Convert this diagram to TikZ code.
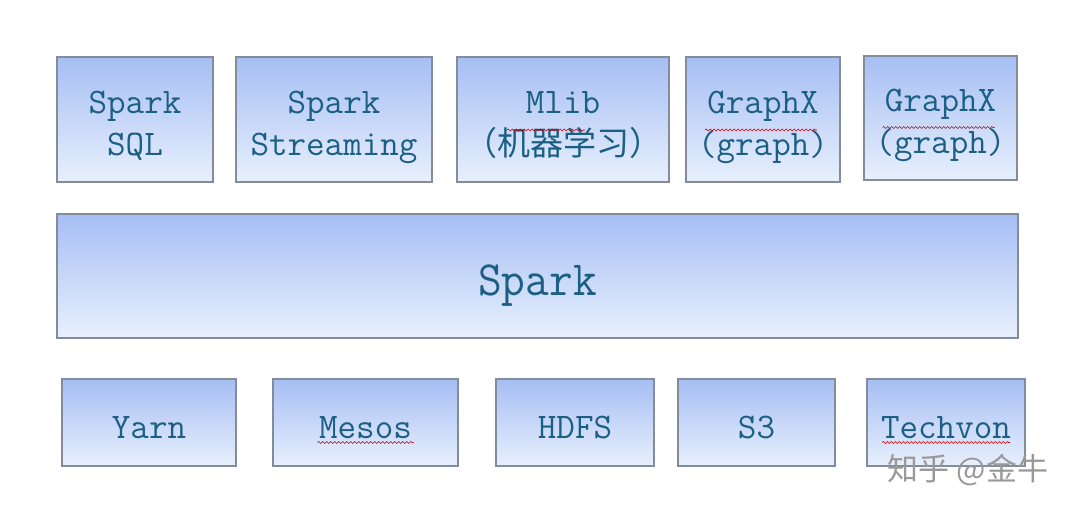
\documentclass[tikz,border=0pt]{standalone}
\usepackage{fontspec}
\newfontfamily\cjk{Noto Sans CJK SC}
\usetikzlibrary{decorations.pathmorphing}
\definecolor{txt}{RGB}{28,95,132}
\definecolor{topc}{RGB}{166,190,244}
\definecolor{botc}{RGB}{232,240,252}
\definecolor{edge}{RGB}{130,140,155}
\newcommand\boxtext[2]{\raisebox{#1}[0pt][0pt]{\begin{tabular}[t]{@{}c@{}}#2\end{tabular}}}
\tikzset{
  box/.style={draw=edge, line width=1.2pt, top color=topc, bottom color=botc,
    inner sep=0pt, outer sep=0pt, align=center, text=txt,
    font=\ttfamily\fontsize{36}{42}\selectfont},
  spell/.style={draw=red!80!black, line width=0.6pt, decorate,
    decoration={snake, amplitude=1pt, segment length=4pt}},
}
\begin{document}
\begin{tikzpicture}[x=1pt,y=-1pt]
\useasboundingbox (0,0) rectangle (1080,515);
\fill[white] (0,0) rectangle (1080,515);
% top row
\node[box, minimum width=156pt, minimum height=125pt] (sql) at (135,119.5) {\boxtext{6.5pt}{Spark\\SQL}};
\node[box, minimum width=196pt, minimum height=125pt] (stream) at (334,119.5) {\boxtext{6.5pt}{Spark\\Streaming}};
\node[box, minimum width=212pt, minimum height=125pt] (mlib) at (563,119.5) {\boxtext{6.5pt}{Mlib\\{\cjk\fontsize{33}{42}\selectfont（机器学习）}}};
\node[box, minimum width=154pt, minimum height=125pt] (gx1) at (763,119.5) {\boxtext{6.5pt}{GraphX\\(graph)}};
\node[box, minimum width=153pt, minimum height=124pt] (gx2) at (940.5,118) {\boxtext{6.5pt}{GraphX\\(graph)}};
% middle
\node[box, minimum width=961pt, minimum height=124pt, font=\ttfamily\fontsize{46}{50}\selectfont] (spark) at (537.5,276) {\boxtext{-19pt}{\scalebox{1}[1.07]{Spark}}};
% bottom row
\node[box, minimum width=174pt, minimum height=87pt] (yarn) at (149,422.5) {\boxtext{-15.5pt}{Yarn}};
\node[box, minimum width=185pt, minimum height=87pt] (mesos) at (365.5,422.5) {\boxtext{-15.5pt}{Mesos}};
\node[box, minimum width=158pt, minimum height=87pt] (hdfs) at (575,422.5) {\boxtext{-15.5pt}{HDFS}};
\node[box, minimum width=157pt, minimum height=87pt] (s3) at (756.5,422.5) {\boxtext{-15.5pt}{S3}};
\node[box, minimum width=158pt, minimum height=87pt] (tech) at (946,422.5) {\boxtext{-15.5pt}{Techvon}};
% spell-check underlines
\draw[spell] ([xshift=-56pt,yshift=-10.5pt]mlib.center) -- ++(78,0);
\draw[spell] ([xshift=-58pt,yshift=-10.5pt]gx1.center) -- ++(112,0);
\draw[spell] ([xshift=-58pt,yshift=-9.5pt]gx2.center) -- ++(112,0);
\draw[spell] ([xshift=-48pt,yshift=-20pt]mesos.center) -- ++(96,0);
\draw[spell] ([xshift=-64pt,yshift=-20pt]tech.center) -- ++(128,0);
% watermark
\node[text=black!40, font=\cjk\fontsize{31}{34}\selectfont] (wm) at (968,470) {知乎 @金牛};
\end{tikzpicture}
\end{document}
